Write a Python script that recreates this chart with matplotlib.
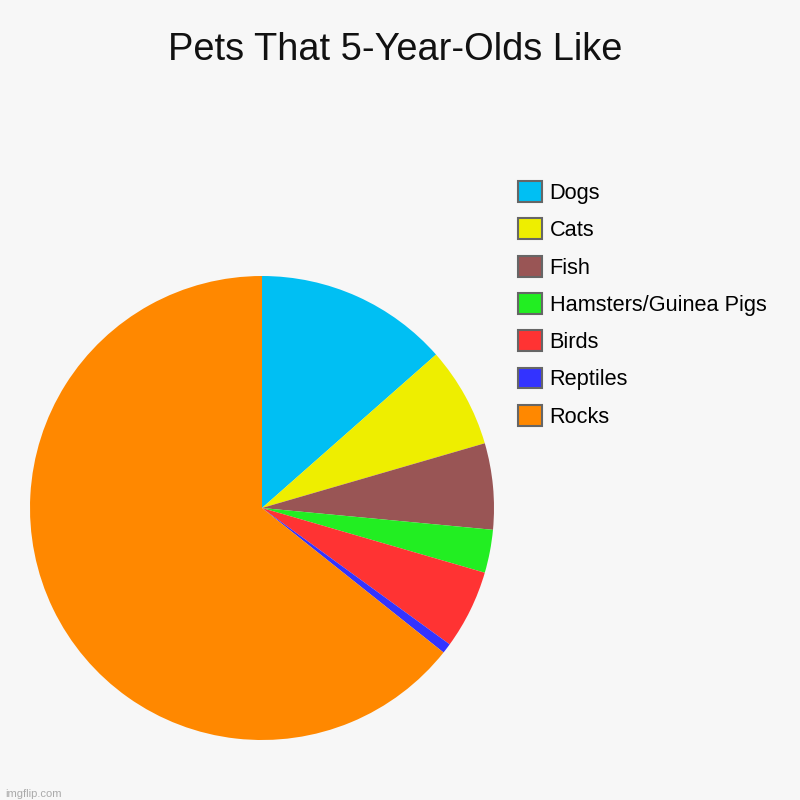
import matplotlib.pyplot as plt
from matplotlib.patches import Patch

plt.rcParams['font.family'] = ['Liberation Sans', 'DejaVu Sans']

# Pet shares (percent)
pets = ['Dogs', 'Cats', 'Fish', 'Hamsters/Guinea Pigs', 'Birds', 'Reptiles', 'Rocks']
shares = [13.5, 7.0, 6.0, 3.0, 5.5, 0.7, 64.3]
colors = ['#00bff3', '#eeee00', '#995555', '#22ee22', '#ff3333', '#3333ff', '#ff8800']

bg = '#f7f7f7'
fig = plt.figure(figsize=(8, 8), dpi=100, facecolor=bg)

# Pie
ax = fig.add_axes([0.0375, 0.075, 0.58, 0.58])
ax.set_facecolor(bg)
ax.pie(shares, colors=colors, startangle=90, counterclock=False,
       wedgeprops={'linewidth': 0})
ax.set_xlim(-1, 1)
ax.set_ylim(-1, 1)
ax.set_aspect('equal')
ax.axis('off')

fig.suptitle('Pets That 5-Year-Olds Like', fontsize=27.4, x=0.494, y=0.96, color='#111111')

# Legend
handles = [Patch(facecolor=c, edgecolor='#666666', linewidth=1.5) for c in colors]
fig.legend(handles, pets, loc='upper left', bbox_to_anchor=(0.6475, 0.7735),
           frameon=False, fontsize=15.7, handlelength=1.1, handleheight=1.1,
           handletextpad=0.35, labelspacing=0.66, borderpad=0, borderaxespad=0)

fig.text(0.006, 0.004, 'imgflip.com', fontsize=8, color='#aaaaaa')

fig.savefig('out.png', facecolor=bg)
